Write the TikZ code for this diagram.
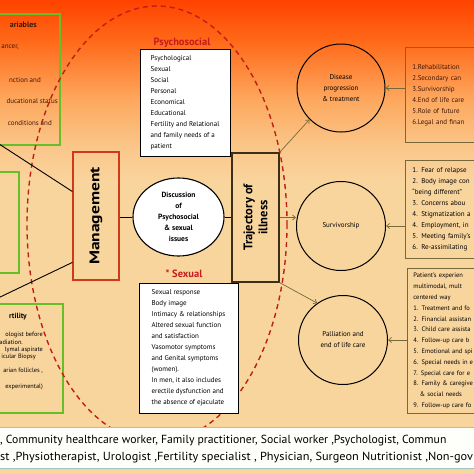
\documentclass[tikz,border=0pt]{standalone}
\usepackage{fontspec}
\setmainfont{PT Sans}
\usetikzlibrary{arrows.meta,shapes.geometric}

\definecolor{bgtop}{RGB}{255,66,0}
\definecolor{bgorange}{RGB}{255,104,24}
\definecolor{bgpeach}{RGB}{253,168,94}
\definecolor{bglight}{RGB}{250,200,140}
\definecolor{bgtan}{RGB}{249,213,158}
\definecolor{framegreen}{RGB}{102,190,40}
\definecolor{framered}{RGB}{206,58,26}
\definecolor{dashred}{RGB}{190,32,20}
\definecolor{titlered}{RGB}{200,26,26}
\definecolor{olive}{RGB}{118,104,58}
\definecolor{trajframe}{RGB}{62,46,22}
\definecolor{bandline}{RGB}{160,198,198}
\definecolor{bandfill}{RGB}{254,254,251}
\definecolor{darktext}{RGB}{62,24,10}

% the shaded path fills 25bp..75bp of the 100bp shading
\pgfdeclareverticalshading{warmsky}{100bp}{color(0bp)=(bgtan); color(55.6bp)=(bgtan);
  color(59.2bp)=(bglight); color(64.5bp)=(bgpeach); color(70.8bp)=(bgorange);
  color(75bp)=(bgtop); color(100bp)=(bgtop)}

\begin{document}
\begin{tikzpicture}[x=1pt, y=-1pt,
    every node/.style = {inner sep=0pt, font=\fontsize{7}{11}\selectfont},
    smalltxt/.style   = {font=\fontsize{7}{11}\selectfont},
    tinytxt/.style    = {font=\fontsize{6.3}{7}\selectfont},
    greenbox/.style   = {draw=framegreen, line width=1.3pt},
    listbox/.style    = {draw=black, fill=white, line width=0.8pt, align=left,
                         inner xsep=5pt, smalltxt},
    sidebox/.style    = {draw=olive, line width=0.9pt, align=left, anchor=north west,
                         inner xsep=7pt, text width=110pt, smalltxt},
    stage/.style      = {draw=black, circle, line width=1pt, minimum size=89pt,
                         align=center, smalltxt},
    hub/.style        = {draw=black, fill=white, ellipse, line width=1.1pt,
                         minimum width=91pt, minimum height=78pt, align=center,
                         font=\fontsize{7.5}{11}\selectfont\bfseries},
    titletxt/.style   = {text=titlered, font=\fontsize{10.5}{12}\selectfont\bfseries},
    barbox/.style     = {line width=1.3pt, minimum width=46pt, minimum height=128pt},
    bartxt/.style     = {rotate=90, align=center, font=\fontsize{12.5}{15}\selectfont\bfseries},
    bandtxt/.style    = {anchor=west, font=\fontsize{11.7}{13}\selectfont},
    linkln/.style     = {draw=black, line width=0.9pt},
    arrowln/.style    = {draw=olive, line width=0.7pt, -{Straight Barb[length=3pt,width=5pt]}},
    dashring/.style   = {draw=dashred, line width=1.4pt, dash pattern=on 5pt off 4pt}]

    \clip (0,0) rectangle (474,474);
    \shade[shading=warmsky] (0,0) rectangle (474,474);

    % Left boxes (cut at the edge)
    \node[greenbox, minimum width=80pt, minimum height=131pt] (varbox) at (20,79.5) {};
    \node[greenbox, minimum width=40pt, minimum height=101pt] (midbox) at (-1,222.5) {};
    \node[greenbox, minimum width=100pt, minimum height=109pt] (fertbox) at (13,358.5) {};

    \node[anchor=east, text=darktext, font=\fontsize{8}{10}\selectfont\bfseries] (varA) at (37,25) {ariables};
    \node[anchor=east, text=darktext] (varB) at (19,47) {ancer,};
    \node[anchor=east, text=darktext] (varC) at (41,80) {nction and};
    \node[anchor=east, text=darktext] (varD) at (58,101) {ducational status};
    \node[anchor=east, text=darktext] (varE) at (52,123) {conditions and};

    \node[anchor=east, font=\fontsize{7.5}{9}\selectfont\bfseries] (fertA) at (27,317) {rtility};
    \node[anchor=east, tinytxt] (fertB) at (43,335) {ologist before};
    \node[anchor=east, tinytxt] (fertC) at (23,342) {adiation.};
    \node[anchor=east, tinytxt] (fertD) at (43,350) {lymal aspirate};
    \node[anchor=east, tinytxt] (fertE) at (36,357) {icular Biopsy};
    \node[anchor=east, tinytxt] (fertF) at (43,371) {arian follicles ,};
    \node[anchor=east, tinytxt] (fertG) at (43,387) {experimental)};

    % Dashed boundary
    \draw[dashring] (157,224) ellipse [x radius=130, y radius=218];

    % Centre column
    \node[barbox, draw=framered] (mgmt) at (96,216) {};
    \node[bartxt, font=\fontsize{14}{15}\selectfont\bfseries] (mgmtlbl) at (mgmt) {\scalebox{1.25}[1]{Management}};
    \node[hub] (hub) at (178.5,217) {Discussion\\of\\Psychosocial\\\& sexual\\issues};
    \node[barbox, draw=trajframe, minimum width=47pt, minimum height=129pt] (traj) at (255.5,217.5) {};
    \node[bartxt] (trajlbl) at (traj) {Trajectory of\\illness};

    \node[titletxt] (psytitle) at (182,43) {Psychosocial};
    \node[listbox, minimum width=90pt, minimum height=107pt] (psybox) at (185,102.5)
        {Psychological\\Sexual\\Social\\Personal\\Economical\\Educational\\
         Fertility and Relational\\and family needs of a\\patient};
    \node[titletxt] (sextitle) at (184,274) {* Sexual};
    \node[listbox, minimum width=99pt, minimum height=130pt] (sexbox) at (188.5,348)
        {Sexual response\\Body image\\Intimacy \& relationships\\Altered sexual function\\
         and satisfaction\\Vasomotor symptoms\\and Genital symptoms\\(women).\\
         In men, it also includes\\erectile dysfunction and\\the absence of ejaculate};

    % Stages of the illness
    \node[stage, minimum size=88pt] (circ1) at (341,88) {Disease\\progression\\\& treatment};
    \node[stage] (circ2) at (341,226) {Survivorship};
    \node[stage] (circ3) at (343,340) {Palliation and\\end of life care};

    % Right boxes (cut at the edge)
    \node[sidebox, minimum height=95pt, text=darktext] (side1) at (405,47)
        {1.Rehabilitation\\2.Secondary can\\3.Survivorship\\4.End of life care\\
         5.Role of future\\6.Legal and finan};
    \node[sidebox, minimum height=98pt] (side2) at (405,160)
        {1. Fear of relapse\\2. Body image con\\“being different”\\3. Concerns abou\\
         4. Stigmatization a\\4. Employment, in\\5. Meeting family’s\\6. Re-assimilating};
    \node[sidebox, minimum height=145pt, inner xsep=6pt,
          font=\fontsize{6.5}{10.8}\selectfont] (side3) at (407,268)
        {Patient’s experien\\multimodal, mult\\centered way\\1. Treatment and fo\\
         2. Financial assistan\\3. Child care assista\\4. Follow-up care b\\
         5. Emotional and spi\\6. Special needs in e\\7. Special care for e\\
         8. Family \& caregive\\\quad\& social needs\\9. Follow-up care fo};

    % Connectors
    \coordinate (farA) at (-4,142);
    \coordinate (farB) at (-4,299);
    \draw[linkln] (farA) -- (mgmt.134);
    \draw[linkln] (farB) -- (mgmt.243);
    \draw[linkln] (hub.west -| mgmt.east) -- (hub.west);
    \draw[linkln] (hub.east) -- (hub.east -| traj.west);

    \draw[arrowln] (traj.north east) -- (circ1.225);
    \draw[arrowln] (traj.east) -- (traj.east -| circ2.west);
    \draw[arrowln] (traj.south east) -- (circ3.125);

    \draw[arrowln] (circ1.east -| side1.west) -- (circ1.east);
    \draw[arrowln] (circ2.east -| side2.west) -- (circ2.east);
    \draw[arrowln] (circ3.east -| side3.west) -- (circ3.east);

    % Care team band
    \node[draw=bandline, fill=bandfill, line width=0.8pt, minimum width=480pt,
          minimum height=41pt] (staffband) at (237,447.5) {};
    \node[bandtxt] (staffA) at (0,441) {, Community healthcare worker, Family practitioner, Social worker ,Psychologist, Commun};
    \node[bandtxt] (staffB) at (0,458) {\scalebox{1.05}[1]{st ,Physiotherapist, Urologist ,Fertility specialist , Physician, Surgeon Nutritionist ,Non-gov}};
\end{tikzpicture}
\end{document}
